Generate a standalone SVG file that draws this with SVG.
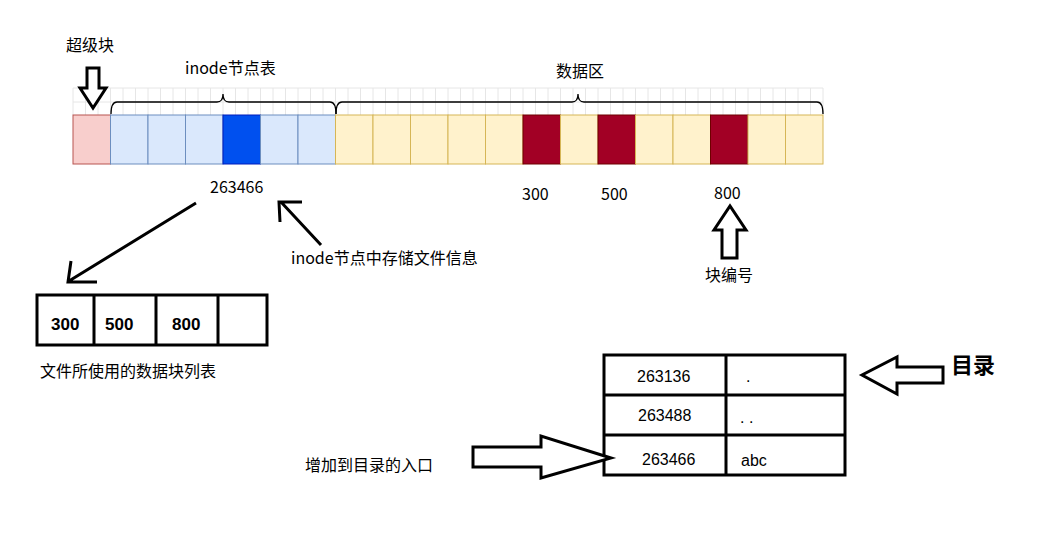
<svg xmlns="http://www.w3.org/2000/svg" width="1042" height="533" viewBox="0 0 1042 533">
<style>
text{font-family:"Noto Sans CJK SC","Liberation Sans",sans-serif;fill:#000}
.g{stroke:#e6e6e6;stroke-width:1}
.p{fill:#f8cecc;stroke:#b85450}
.b{fill:#dae8fc;stroke:#6c8ebf}
.y{fill:#fff2cc;stroke:#d6b656}
.r{fill:#a20025;stroke:#6f0000}
.tb{fill:none;stroke:#000;stroke-width:3}
.ha{fill:#fff;stroke:#000;stroke-width:3}
.ln{stroke:#000;stroke-width:3;fill:none}
</style>
<g id="grid">
<path class="g" d="M73 88H823M73 102H823M73 88V115M85.5 88V115M98 88V115M110.5 88V115M123 88V115M135.5 88V115M148 88V115M160.5 88V115M173 88V115M185.5 88V115M198 88V115M210.5 88V115M223 88V115M235.5 88V115M248 88V115M260.5 88V115M273 88V115M285.5 88V115M298 88V115M310.5 88V115M323 88V115M335.5 88V115M348 88V115M360.5 88V115M373 88V115M385.5 88V115M398 88V115M410.5 88V115M423 88V115M435.5 88V115M448 88V115M460.5 88V115M473 88V115M485.5 88V115M498 88V115M510.5 88V115M523 88V115M535.5 88V115M548 88V115M560.5 88V115M573 88V115M585.5 88V115M598 88V115M610.5 88V115M623 88V115M635.5 88V115M648 88V115M660.5 88V115M673 88V115M685.5 88V115M698 88V115M710.5 88V115M723 88V115M735.5 88V115M748 88V115M760.5 88V115M773 88V115M785.5 88V115M798 88V115M810.5 88V115M823 88V115"/>
</g>
<g id="blocks">
<rect class="p" x="73" y="115" width="37.5" height="49"/>
<rect class="b" x="110.5" y="115" width="37.5" height="49"/>
<rect class="b" x="148" y="115" width="37.5" height="49"/>
<rect class="b" x="185.5" y="115" width="37.5" height="49"/>
<rect x="223" y="115" width="37.5" height="49" fill="#0050ef" stroke="#001dbc"/>
<rect class="b" x="260.5" y="115" width="37.5" height="49"/>
<rect class="b" x="298" y="115" width="37.5" height="49"/>
<rect class="y" x="335.5" y="115" width="37.5" height="49"/>
<rect class="y" x="373" y="115" width="37.5" height="49"/>
<rect class="y" x="410.5" y="115" width="37.5" height="49"/>
<rect class="y" x="448" y="115" width="37.5" height="49"/>
<rect class="y" x="485.5" y="115" width="37.5" height="49"/>
<rect class="r" x="523" y="115" width="37.5" height="49"/>
<rect class="y" x="560.5" y="115" width="37.5" height="49"/>
<rect class="r" x="598" y="115" width="37.5" height="49"/>
<rect class="y" x="635.5" y="115" width="37.5" height="49"/>
<rect class="y" x="673" y="115" width="37.5" height="49"/>
<rect class="r" x="710.5" y="115" width="37.5" height="49"/>
<rect class="y" x="748" y="115" width="37.5" height="49"/>
<rect class="y" x="785.5" y="115" width="37.5" height="49"/>
</g>
<g id="braces" fill="none" stroke="#000" stroke-width="1.3">
<path d="M111 114Q111 102 117 102H217Q223 102 223 94Q223 102 229 102H330Q336 102 336 114"/>
<path d="M336 114Q336 102 342 102H572Q578 102 578 94Q578 102 584 102H817Q823 102 823 114"/>
</g>
<g id="labels" font-size="16">
<text x="66" y="51">超级块</text>
<text x="185" y="74">inode节点表</text>
<text x="556" y="77">数据区</text>
<text x="210" y="193">263466</text>
<text x="522" y="200">300</text>
<text x="601" y="200">500</text>
<text x="714" y="199">800</text>
<text x="291" y="264">inode节点中存储文件信息</text>
<text x="705" y="281">块编号</text>
<text x="40" y="377">文件所使用的数据块列表</text>
<text x="305" y="471">增加到目录的入口</text>
<text x="951" y="373" font-size="22" font-weight="bold">目录</text>
</g>
<g id="blocklist">
<rect class="tb" x="37" y="295" width="230" height="50"/>
<path class="tb" d="M94 295V345M156 295V345M218 295V345"/>
<g font-size="17" font-weight="bold" font-family="Liberation Sans,sans-serif">
<text x="51" y="330" style="font-family:'Liberation Sans',sans-serif">300</text>
<text x="105" y="330" style="font-family:'Liberation Sans',sans-serif">500</text>
<text x="172" y="330" style="font-family:'Liberation Sans',sans-serif">800</text>
</g>
</g>
<g id="directory">
<rect class="tb" x="604" y="355" width="241" height="120"/>
<path class="tb" d="M726 355V475M604 395H845M604 435H845"/>
<g font-size="16" style="font-family:'Liberation Sans',sans-serif">
<text x="637" y="382" style="font-family:'Liberation Sans',sans-serif">263136</text>
<text x="746" y="382" style="font-family:'Liberation Sans',sans-serif">.</text>
<text x="638" y="421" style="font-family:'Liberation Sans',sans-serif">263488</text>
<text x="740" y="423" style="font-family:'Liberation Sans',sans-serif">. .</text>
<text x="642" y="465" style="font-family:'Liberation Sans',sans-serif">263466</text>
<text x="741" y="466" style="font-family:'Liberation Sans',sans-serif">abc</text>
</g>
</g>
<g id="connectors">
<path class="ha" d="M87 68H99V88H106L93 108L80 88H87Z"/>
<path class="ha" d="M722 258V230H714L730 206L746 230H737V258Z"/>
<path class="ha" d="M943 367V383H897V394L862 375L897 357V367Z"/>
<path class="ha" d="M473 447H541V436L611 458L541 478V467H473Z"/>
<path class="ln" d="M196 203L69 281M71 261L68 282L97 282"/>
<path class="ln" d="M321 245L281 202M280 222L279 202L302 202"/>
</g>
</svg>
